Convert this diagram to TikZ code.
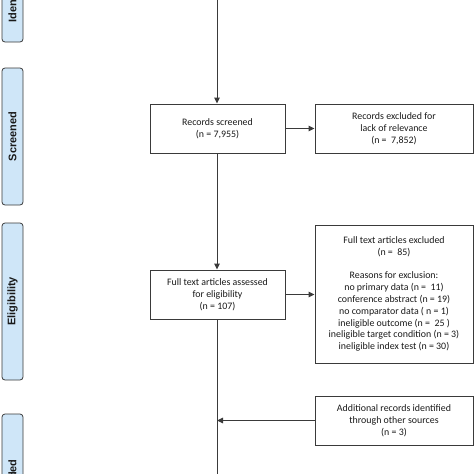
\documentclass[tikz,border=0pt]{standalone}
\usepackage{fontspec}
\setmainfont{Carlito}
\newfontfamily\barfont{Liberation Sans}
\usetikzlibrary{arrows.meta,calc}
\definecolor{barfill}{HTML}{CFE6F8}
\definecolor{lineclr}{HTML}{3A3A3A}
\definecolor{txtclr}{HTML}{1A1A1A}
\tikzset{
  flowbox/.style={draw=lineclr, line width=1pt, fill=white, rectangle, align=center,
    font=\fontsize{9.9}{11.8}\selectfont, text=txtclr, inner sep=0pt},
  lanebar/.style={draw=lineclr, line width=0.8pt, fill=barfill, rectangle, rounded corners=3pt,
    rotate=90, minimum height=21pt, inner sep=0pt,
    font=\barfont\bfseries\fontsize{11}{13}\selectfont, text=txtclr},
  conn/.style={draw=lineclr, line width=1pt},
  arr/.style={conn, -{Triangle[length=6pt,width=5.5pt]}}
}
\begin{document}
\begin{tikzpicture}[x=1pt,y=-1pt]
\useasboundingbox (0,0) rectangle (474,474);
\clip (0,0) rectangle (474,474);
% lane bars
\node[lanebar, minimum width=108pt] (ident) at (12.5,-12) {Identification};
\node[lanebar, minimum width=137pt] (screen) at (12.5,136.5) {Screened};
\node[lanebar, minimum width=157pt] (elig) at (12.5,301.5) {Eligibility};
\node[lanebar, minimum width=136pt] (incl) at (12.5,482) {Included};
% boxes
\node[flowbox, minimum width=135pt, minimum height=49pt] (scr) at (217.5,128.5) {Records screened\\(n = 7,955)};
\node[flowbox, minimum width=158pt, minimum height=49pt] (exc1) at (394,128.5) {Records excluded for\\lack of relevance\\(n =\ \ 7,852)};
\node[flowbox, minimum width=135pt, minimum height=49pt] (full) at (217.5,294.5) {Full text articles assessed\\for eligibility\\(n = 107)};
\node[flowbox, minimum width=158pt, minimum height=138pt] (exc2) at (394,294) {Full text articles excluded\\(n =\ \ 85)\\[11.8pt]Reasons for exclusion:\\no primary data (n =\ \ 11)\\conference abstract (n = 19)\\no comparator data ( n = 1)\\ineligible outcome (n =\ \ 25 )\\ineligible target condition (n = 3)\\ineligible index test (n = 30)};
\node[flowbox, minimum width=158pt, minimum height=49pt] (addl) at (394,420.5) {Additional records identified\\through other sources\\(n = 3)};
% coordinates
\coordinate (top) at (217,-5);
\coordinate (bot) at (217,480);
\coordinate (join) at (217,420.5);
% connectors
\draw[arr] (top) -- (top |- scr.north);
\draw[arr] (scr.east) -- (exc1.west);
\draw[arr] (scr.south -| top) -- (full.north -| top);
\draw[arr] (full.east) -- (full.east -| exc2.west);
\draw[conn] (full.south -| top) -- (bot);
\draw[arr] (addl.west) -- (join);
\end{tikzpicture}
\end{document}
